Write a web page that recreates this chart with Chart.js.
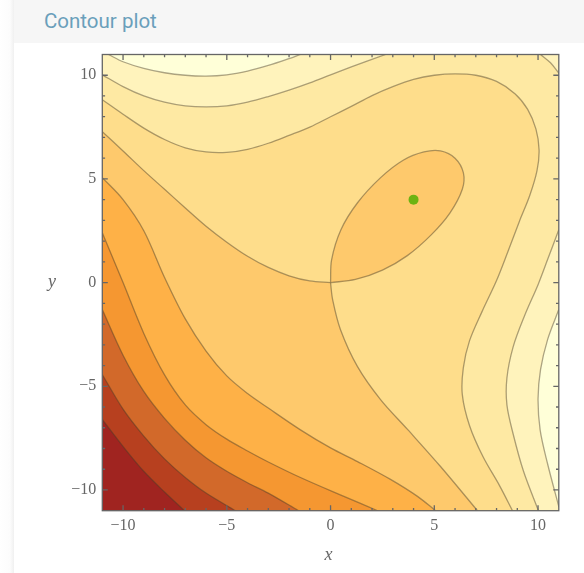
<!DOCTYPE html>
<html>
<head>
<meta charset="utf-8">
<script src="https://cdn.jsdelivr.net/npm/chart.js@4/dist/chart.umd.min.js"></script>
<style>
  html, body { margin: 0; padding: 0; background: #fff; }
  body { width: 584px; height: 573px; overflow: hidden; position: relative; }
  .gutter { position: absolute; left: 0; top: 0; width: 14px; height: 573px; background: linear-gradient(to right, #fff 0, #fcfcfc 10px, #f0f0f0 14px); }
  .header { position: absolute; left: 14px; top: 0; width: 570px; height: 43px; background: #f6f6f6; }
  .header span { position: absolute; left: 30px; top: 9px; font: 20.5px Roboto, sans-serif; color: #6a9fbb; }
  canvas { position: absolute; left: 0; top: 0; filter: blur(0.4px); }
</style>
</head>
<body>
<div class="gutter"></div>
<div class="header"><span>Contour plot</span></div>
<canvas id="chart" width="584" height="573"></canvas>
<script>
const xTitle = `x`;
const yTitle = `y`;
const axisMin = -11;
const axisMax = 11;

// contour lines, from the dark corner to the light edges
const contourA = [[-11, -6.6], [-10, -7.9], [-9, -9.1], [-8, -10.1], [-7.04, -11]];
const contourB = [[-11, -4.43], [-10, -6.1], [-9, -7.4], [-8, -8.5], [-7, -9.4], [-6, -10.15], [-4.58, -11]];
const contourC = [[-11, -1.3], [-10, -3.5], [-9, -5.25], [-8, -6.55], [-7, -7.6], [-6, -8.45], [-5, -9.1], [-4, -9.65], [-3, -10.15], [-1.54, -11]];
const contourD = [[-11, 2.4], [-10, 0], [-9, -2.45], [-8, -4.45], [-7, -5.9], [-6, -6.85], [-5, -7.55], [-4, -8.12], [-3, -8.65], [-1.45, -9.4], [0.5, -10.25], [2.27, -11]];
const contourE = [[-11, 5.06], [-10, 4], [-9, 2.5], [-8, 0.25], [-7, -1.75], [-6, -3.3], [-5, -4.5], [-4, -5.35], [-3, -6.05], [-1.45, -7.1], [0, -7.97], [1.3, -8.63], [2.89, -9.49], [4.19, -10.31], [5.06, -11]];
const saddleWest = [[-11, 7.28], [-10, 6.35], [-9, 5.4], [-8, 4.5], [-7, 3.6], [-6, 2.72], [-5, 1.95], [-4, 1.27], [-3, 0.73], [-2, 0.33], [-1, 0.08], [0, 0]];
const saddleSouth = [[0, 0], [0.1, -0.82], [0.48, -2.27], [1.3, -4.05], [2.41, -5.64], [3.71, -7.08], [5.3, -8.87], [7.08, -11]];
const saddleLoop = [[0, 0], [0, 0], [0.05, 1.1], [0.5, 2.55], [1.3, 3.85], [2.4, 5.05], [3.5, 5.9], [4.5, 6.3], [5.3, 6.35], [6, 6], [6.4, 5.3], [6.35, 4.5], [5.75, 3.35], [4.85, 2.3], [3.7, 1.3], [2.5, 0.6], [1.2, 0.15], [0, 0], [0, 0]];
const contourF = [[-11, 8.82], [-10, 8.12], [-9, 7.45], [-8, 6.9], [-7, 6.5], [-6, 6.3], [-5, 6.28], [-4, 6.43], [-3, 6.72], [-2, 7.1], [-1, 7.5], [0, 8], [1, 8.5], [2, 9.02], [3, 9.45], [4, 9.8], [5, 10], [6, 10.07], [7, 10], [8, 9.7], [8.9, 9.1], [9.5, 8.35], [9.9, 7.4], [10.05, 6.4], [9.95, 5.4], [9.6, 4.2], [9.1, 2.95], [8.55, 1.5], [8, 0.1], [7.3, -1.4], [6.7, -2.8], [6.4, -4.1], [6.35, -5.4], [6.7, -6.9], [7.35, -8.4], [8.15, -9.8], [8.77, -11]];
const contourGTop = [[-11, 10.02], [-10, 9.45], [-9, 9], [-8, 8.7], [-7, 8.52], [-6, 8.47], [-5, 8.52], [-4, 8.7], [-3, 8.97], [-2, 9.28], [-1, 9.63], [0, 10.02], [1, 10.4], [2.65, 11]];
const contourGCorner = [[10.12, 11], [10.6, 10.6], [11, 10.1]];
const contourGRight = [[11, 2.55], [10.46, 1.11], [10, -0.1], [9.35, -1.6], [8.8, -3.1], [8.5, -4.6], [8.5, -5.9], [8.8, -7.3], [9.3, -9.1], [10.02, -11]];
const contourHTop = [[-10.7, 11], [-10, 10.65], [-9, 10.33], [-8, 10.12], [-7, 10], [-6, 9.96], [-5, 10.02], [-4, 10.2], [-3, 10.47], [-2, 10.8], [-1.45, 11]];
const contourHRight = [[11, -1.3], [10.46, -2.75], [10.12, -4.2], [10, -5.6], [10.1, -7.1], [10.45, -8.7], [11, -10.8]];
const markerPoint = [[4, 4]];

const bandColors = [`#a02420`, `#b7401f`, `#d2692a`, `#f59731`, `#feb147`, `#fec96c`, `#fedd8b`, `#fee9a3`, `#fff3bc`, `#ffffd8`];

const FAR = 40;
const toPoints = (list) => list.map(([x, y]) => ({x, y}));

// closes a contour around the light side, the far corners stay outside the frame
// the last point goes in twice so the spline does not bend towards the corner
const closeRight = (list) => toPoints([...list, list[list.length - 1], [FAR, -FAR], [FAR, FAR], [-FAR, FAR]]);
const closeTop = (list) => toPoints([...list, list[list.length - 1], [FAR, FAR], [-FAR, FAR]]);
const closeEast = (list) => toPoints([...list, list[list.length - 1], [FAR, -FAR], [FAR, FAR]]);

const band = (data, color) => ({
  type: `scatter`,
  data,
  showLine: true,
  pointRadius: 0,
  pointHoverRadius: 0,
  tension: 0.33,
  clip: 0,
  borderWidth: 1.3,
  borderColor: `rgba(70, 60, 40, 0.45)`,
  backgroundColor: color,
  fill: `shape`
});

const bands = [
  band(closeRight(contourA), bandColors[1]),
  band(closeRight(contourB), bandColors[2]),
  band(closeRight(contourC), bandColors[3]),
  band(closeRight(contourD), bandColors[4]),
  band(closeRight(contourE), bandColors[5]),
  band(closeRight([...saddleWest, ...saddleSouth]), bandColors[6]),
  band(toPoints(saddleLoop), bandColors[5]),
  band(closeRight(contourF), bandColors[7]),
  band(closeTop(contourGTop), bandColors[8]),
  band(closeTop(contourGCorner), bandColors[8]),
  band(closeEast(contourGRight), bandColors[8]),
  band(closeTop(contourHTop), bandColors[9]),
  band(closeEast(contourHRight), bandColors[9])
];

const drawFrame = {
  id: `drawFrame`,
  beforeDatasetsDraw(chart) {
    const {ctx, chartArea: area} = chart;
    ctx.save();
    ctx.fillStyle = bandColors[0];
    ctx.fillRect(area.left, area.top, area.width, area.height);
    ctx.restore();
  },
  afterDatasetsDraw(chart) {
    const {ctx, chartArea: area, scales: {x, y}} = chart;
    ctx.save();
    ctx.strokeStyle = `#666`;
    ctx.lineWidth = 1.3;
    ctx.beginPath();
    for (let i = -10; i <= 10; i++) {
      const size = i % 5 === 0 ? 5.5 : 2.8;
      const px = x.getPixelForValue(i);
      const py = y.getPixelForValue(i);
      ctx.moveTo(px, area.bottom);
      ctx.lineTo(px, area.bottom - size);
      ctx.moveTo(px, area.top);
      ctx.lineTo(px, area.top + size);
      ctx.moveTo(area.left, py);
      ctx.lineTo(area.left + size, py);
      ctx.moveTo(area.right, py);
      ctx.lineTo(area.right - size, py);
    }
    ctx.stroke();
    ctx.strokeRect(area.left, area.top, area.width, area.height);

    ctx.fillStyle = `#666`;
    ctx.font = `italic 18px "Liberation Serif"`;
    ctx.textAlign = `center`;
    ctx.textBaseline = `middle`;
    ctx.fillText(xTitle, x.getPixelForValue(0) - 2, 555);
    ctx.fillText(yTitle, 52, y.getPixelForValue(0));
    ctx.restore();
  }
};

const tickLabel = (value) => {
  if (value % 5 !== 0) {
    return ``;
  }
  return value < 0 ? `\u2212${Math.abs(value)}` : `${value}`;
};

const axis = (size) => ({
  type: `linear`,
  min: axisMin,
  max: axisMax,
  grid: {display: false, drawTicks: false},
  border: {display: false},
  afterFit(scale) {
    scale[size] = size === `width` ? 102.3 : 62.3;
  },
  ticks: {
    stepSize: 1,
    autoSkip: false,
    maxRotation: 0,
    padding: size === `width` ? 6 : 5,
    color: `#666`,
    font: {family: `"Liberation Serif"`, size: 16},
    callback: tickLabel
  }
});

new Chart(document.getElementById(`chart`), {
  type: `scatter`,
  data: {
    datasets: [
      {
        data: toPoints(markerPoint),
        pointRadius: 5,
        pointBackgroundColor: `#6db312`,
        pointBorderWidth: 0,
        order: 0
      },
      ...bands.map((it, i) => Object.assign(it, {order: bands.length - i}))
    ]
  },
  options: {
    responsive: false,
    animation: false,
    events: [],
    layout: {padding: {left: 0, top: 54.5, right: 25.2, bottom: 0}},
    plugins: {legend: {display: false}, tooltip: {enabled: false}, title: {display: false}},
    scales: {x: axis(`height`), y: axis(`width`)}
  },
  plugins: [drawFrame]
});
</script>
</body>
</html>
